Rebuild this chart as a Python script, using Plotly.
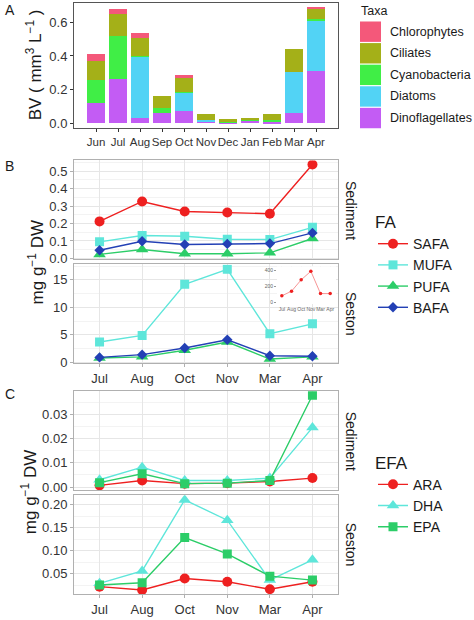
import plotly.graph_objects as go

W, H = 474, 620
def X(px): return px / W
def Y(py): return 1 - py / H

# ---------------- Data ----------------
months_a = ["Jun", "Jul", "Aug", "Sep", "Oct", "Nov", "Dec", "Jan", "Feb", "Mar", "Apr"]
dinoflagellates = [0.117, 0.260, 0.030, 0.059, 0.072, 0.012, 0.008, 0.018, 0.010, 0.059, 0.313]
diatoms         = [0.000, 0.000, 0.368, 0.000, 0.110, 0.005, 0.000, 0.000, 0.000, 0.244, 0.299]
cyanobacteria   = [0.141, 0.258, 0.004, 0.029, 0.002, 0.000, 0.004, 0.004, 0.006, 0.000, 0.006]
ciliates        = [0.113, 0.131, 0.104, 0.076, 0.086, 0.036, 0.011, 0.011, 0.037, 0.141, 0.060]
chlorophytes    = [0.039, 0.029, 0.032, 0.000, 0.014, 0.000, 0.000, 0.000, 0.000, 0.000, 0.012]

months_b = ["Jul", "Aug", "Oct", "Nov", "Mar", "Apr"]
sed_safa = [0.212, 0.326, 0.269, 0.263, 0.256, 0.538]
sed_mufa = [0.095, 0.131, 0.127, 0.110, 0.108, 0.178]
sed_pufa = [0.023, 0.051, 0.027, 0.027, 0.032, 0.114]
sed_bafa = [0.047, 0.098, 0.080, 0.083, 0.085, 0.146]
ses_safa = [82, 138, 279, 385, 109, 109]
ses_mufa = [3.7, 4.9, 14.2, 16.9, 5.2, 7.0]
ses_pufa = [0.8, 1.0, 2.2, 3.7, 0.6, 1.0]
ses_bafa = [0.9, 1.4, 2.6, 4.1, 1.2, 1.1]

sed_ara = [0.0007, 0.0027, 0.0014, 0.0016, 0.0023, 0.0037]
sed_dha = [0.0030, 0.0082, 0.0027, 0.0027, 0.0037, 0.0245]
sed_epa = [0.0018, 0.0055, 0.0014, 0.0016, 0.0027, 0.0378]
ses_ara = [0.0214, 0.0143, 0.0393, 0.0321, 0.0157, 0.0321]
ses_dha = [0.0286, 0.0557, 0.2107, 0.1664, 0.0357, 0.0800]
ses_epa = [0.0250, 0.0300, 0.1286, 0.0929, 0.0443, 0.0357]

# ---------------- Styles ----------------
FONT = "Liberation Sans, Arial, sans-serif"
taxa = [
    ("Dinoflagellates", dinoflagellates, "#C35CF4"),
    ("Diatoms", diatoms, "#52D3F5"),
    ("Cyanobacteria", cyanobacteria, "#40EE46"),
    ("Ciliates", ciliates, "#A4B018"),
    ("Chlorophytes", chlorophytes, "#F4587A"),
]
RED, TURQ, GREEN, BLUE = "#EE2020", "#5EE6DA", "#2CCD68", "#2340B5"

fig = go.Figure()

# Panel A bars
for name, vals, col in taxa:
    fig.add_trace(go.Bar(x=months_a, y=vals, name=name, marker=dict(color=col, line=dict(width=0)),
                         width=0.78, showlegend=False, xaxis="x", yaxis="y"))

def line_trace(x, y, name, color, symbol, size, xa, ya, legend, show):
    return go.Scatter(x=x, y=y, name=name, mode="lines+markers",
                      line=dict(color=color, width=1.4),
                      marker=dict(color=color, symbol=symbol, size=size, line=dict(width=0)),
                      xaxis=xa, yaxis=ya, legend=legend, showlegend=show)

fa = [("SAFA", RED, "circle", 10), ("MUFA", TURQ, "square", 9),
      ("PUFA", GREEN, "triangle-up", 11), ("BAFA", BLUE, "diamond", 8)]
sed_fa = {"SAFA": sed_safa, "MUFA": sed_mufa, "PUFA": sed_pufa, "BAFA": sed_bafa}
ses_fa = {"MUFA": ses_mufa, "PUFA": ses_pufa, "BAFA": ses_bafa}
for name, col, sym, sz in fa:
    fig.add_trace(line_trace(months_b, sed_fa[name], name, col, sym, sz, "x2", "y2", "legend2", True))
for name, col, sym, sz in fa:
    if name in ses_fa:
        fig.add_trace(line_trace(months_b, ses_fa[name], name, col, sym, sz, "x3", "y3", "legend2", False))

efa = [("ARA", RED, "circle", 10), ("DHA", TURQ, "triangle-up", 11), ("EPA", GREEN, "square", 9)]
sed_efa = {"ARA": sed_ara, "DHA": sed_dha, "EPA": sed_epa}
ses_efa = {"ARA": ses_ara, "DHA": ses_dha, "EPA": ses_epa}
for name, col, sym, sz in efa:
    fig.add_trace(line_trace(months_b, sed_efa[name], name, col, sym, sz, "x4", "y4", "legend3", True))
for name, col, sym, sz in efa:
    fig.add_trace(line_trace(months_b, ses_efa[name], name, col, sym, sz, "x5", "y5", "legend3", False))

# inset: seston SAFA
fig.add_trace(go.Scatter(x=months_b, y=ses_safa, mode="lines+markers", showlegend=False,
                         line=dict(color="#F47A7A", width=0.8),
                         marker=dict(color=RED, size=3.5), xaxis="x6", yaxis="y6"))

# ---------------- Axes ----------------
tickfont = dict(family=FONT, size=13, color="#333333")
GRID, MINOR, FRAME = "#E6E6E6", "#F3F3F3", "#B0B0B0"

xd = [X(74), X(338)]
common_x = dict(type="category", categoryorder="array", showline=True, mirror=True,
                linecolor=FRAME, linewidth=1, showgrid=True, gridcolor=GRID, gridwidth=1,
                tickfont=tickfont, zeroline=False, tickangle=0)
common_y = dict(showline=True, mirror=True, linecolor=FRAME, linewidth=1, showgrid=True,
                gridcolor=GRID, gridwidth=1, ticks="outside", ticklen=3, tickcolor=FRAME,
                tickfont=tickfont, zeroline=False)

layout = dict(
    width=W, height=H, margin=dict(l=0, r=0, t=0, b=0),
    paper_bgcolor="white", plot_bgcolor="white", barmode="stack",
    font=dict(family=FONT, color="#1a1a1a"),
    xaxis=dict(domain=xd, anchor="y", type="category", categoryorder="array", categoryarray=months_a,
               range=[-1, 11], showline=True, mirror=True, linecolor="#555555", linewidth=1,
               showgrid=False, ticks="outside", ticklen=3, tickcolor="#333333", tickangle=0,
               tickfont=dict(family=FONT, size=11.5, color="#333333")),
    yaxis=dict(domain=[Y(129), Y(2.7)], anchor="x", range=[-0.028, 0.718],
               tickvals=[0, 0.2, 0.4, 0.6], ticktext=["0.0", "0.2", "0.4", "0.6"],
               showline=True, mirror=True, linecolor="#555555", linewidth=1, showgrid=False,
               zeroline=False, ticks="outside", ticklen=3, tickcolor="#333333", tickfont=tickfont),
    xaxis2=dict(common_x, domain=xd, anchor="y2", categoryarray=months_b, range=[-0.6, 5.6],
                showticklabels=False, ticks=""),
    yaxis2=dict(common_y, domain=[Y(262), Y(162)], anchor="x2", range=[-0.006, 0.561],
                tickmode="linear", tick0=0, dtick=0.1, tickformat=".1f",
                minor=dict(showgrid=True, gridcolor=MINOR, gridwidth=0.6, dtick=0.05, tick0=0)),
    xaxis3=dict(common_x, domain=xd, anchor="y3", categoryarray=months_b, range=[-0.6, 5.6],
                ticks="outside", ticklen=3, tickcolor=FRAME),
    yaxis3=dict(common_y, domain=[Y(367), Y(267)], anchor="x3", range=[-0.2, 17.8],
                tickmode="linear", tick0=0, dtick=5,
                minor=dict(showgrid=True, gridcolor=MINOR, gridwidth=0.6, dtick=2.5, tick0=0)),
    xaxis4=dict(common_x, domain=xd, anchor="y4", categoryarray=months_b, range=[-0.6, 5.6],
                showticklabels=False, ticks=""),
    yaxis4=dict(common_y, domain=[Y(495), Y(395)], anchor="x4", range=[-0.0013, 0.0395],
                tickmode="linear", tick0=0, dtick=0.01, tickformat=".2f",
                minor=dict(showgrid=True, gridcolor=MINOR, gridwidth=0.6, dtick=0.005, tick0=0)),
    xaxis5=dict(common_x, domain=xd, anchor="y5", categoryarray=months_b, range=[-0.6, 5.6],
                ticks="outside", ticklen=3, tickcolor=FRAME),
    yaxis5=dict(common_y, domain=[Y(600), Y(500)], anchor="x5", range=[0.005, 0.221],
                tickmode="linear", tick0=0, dtick=0.05, tickformat=".2f",
                minor=dict(showgrid=True, gridcolor=MINOR, gridwidth=0.6, dtick=0.025, tick0=0)),
    xaxis6=dict(domain=[X(277), X(336)], anchor="y6", type="category", categoryarray=months_b,
                range=[-0.5, 5.6], showline=False, showgrid=True, gridcolor="#EEEEEE", tickangle=0,
                ticks="", tickfont=dict(family=FONT, size=5, color="#666666"), ticklabelstandoff=1),
    yaxis6=dict(domain=[Y(307), Y(269)], anchor="x6", range=[-20, 445], tickvals=[0, 200, 400],
                showline=False, showgrid=True, gridcolor="#EEEEEE", zeroline=False,
                ticks="outside", ticklen=2, tickcolor="#999999",
                tickfont=dict(family=FONT, size=5, color="#666666")),
    legend2=dict(x=X(373), y=Y(208), xanchor="left", yanchor="top",
                 title=dict(text="FA", font=dict(family=FONT, size=17, color="#1a1a1a")),
                 font=dict(family=FONT, size=14, color="#1a1a1a"), bgcolor="rgba(0,0,0,0)",
                 tracegroupgap=0, itemwidth=30),
    legend3=dict(x=X(373), y=Y(451), xanchor="left", yanchor="top",
                 title=dict(text="EFA", font=dict(family=FONT, size=17, color="#1a1a1a")),
                 font=dict(family=FONT, size=14, color="#1a1a1a"), bgcolor="rgba(0,0,0,0)",
                 tracegroupgap=0, itemwidth=30),
)
fig.update_layout(**layout)

shapes = []
annotations = []

# inset background (drawn in the inset subplot, above main panel, below inset traces)
shapes.append(dict(type="rect", xref="x6", yref="y6", x0=-1.25, x1=5.68, y0=-100, y1=455,
                   fillcolor="white", line=dict(color="#C8C8C8", width=0.8), layer="between"))

# Panel A legend (manual swatches)
annotations.append(dict(text="Taxa", x=X(359), y=Y(11), xref="paper", yref="paper",
                        xanchor="left", yanchor="middle", showarrow=False,
                        font=dict(family=FONT, size=12.5, color="#1a1a1a")))
legend_rows = [("Chlorophytes", "#F4587A"), ("Ciliates", "#A4B018"), ("Cyanobacteria", "#40EE46"),
               ("Diatoms", "#52D3F5"), ("Dinoflagellates", "#C35CF4")]
for i, (name, col) in enumerate(legend_rows):
    cy = 32 + i * 21.8
    shapes.append(dict(type="rect", xref="paper", yref="paper", x0=X(360), x1=X(381),
                       y0=Y(cy + 10.3), y1=Y(cy - 10.3), fillcolor=col, line=dict(width=0)))
    annotations.append(dict(text=name, x=X(388), y=Y(cy), xref="paper", yref="paper",
                            xanchor="left", yanchor="middle", showarrow=False,
                            font=dict(family=FONT, size=12.5, color="#1a1a1a")))

# panel letters
for letter, py in [("A", 10), ("B", 168), ("C", 398)]:
    annotations.append(dict(text=letter, x=X(3), y=Y(py), xref="paper", yref="paper",
                            xanchor="left", yanchor="middle", showarrow=False,
                            font=dict(family=FONT, size=14, color="#1a1a1a")))

# y titles
ytitle_font = dict(family=FONT, size=17, color="#1a1a1a")
annotations.append(dict(text="BV ( mm<sup>3</sup> L<sup>−1</sup> )", x=X(34), y=Y(66), xref="paper", yref="paper",
                        textangle=-90, showarrow=False, xanchor="center", yanchor="middle", font=ytitle_font))
for px, py in [(36, 265), (29, 497)]:
    annotations.append(dict(text="mg g<sup>−1</sup> DW", x=X(px), y=Y(py), xref="paper", yref="paper",
                            textangle=-90, showarrow=False, xanchor="center", yanchor="middle", font=ytitle_font))

# strip labels
for txt, top, bot in [("Sediment", 162, 262), ("Seston", 267, 367), ("Sediment", 395, 495), ("Seston", 500, 600)]:
    annotations.append(dict(text=txt, x=X(351), y=Y((top + bot) / 2), xref="paper", yref="paper",
                            textangle=90, showarrow=False, xanchor="center", yanchor="middle",
                            font=dict(family=FONT, size=14, color="#1a1a1a")))

fig.update_layout(shapes=shapes, annotations=annotations)
fig.write_html("out.html", config={"displayModeBar": False},
               post_script="document.body.style.margin='0';document.body.style.overflow='hidden';")
